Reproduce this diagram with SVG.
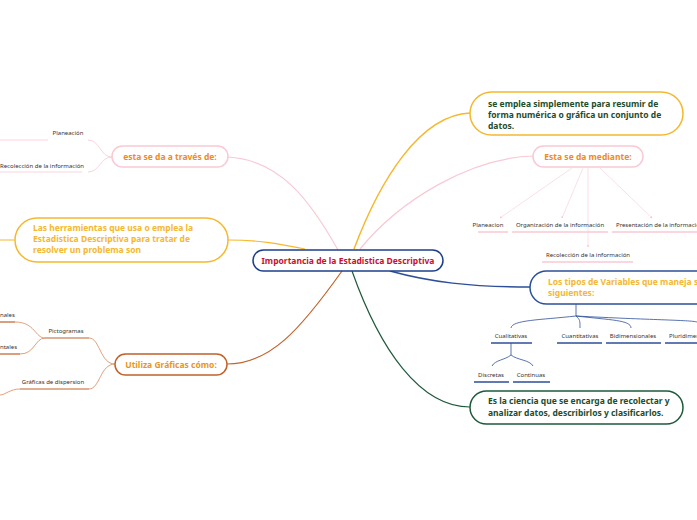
<svg xmlns="http://www.w3.org/2000/svg" width="697" height="520" viewBox="0 0 697 520">
<style>
text{font-family:"Noto Sans","Open Sans",sans-serif}
.n{fill:#fff;stroke-width:1.5}
.b{font-size:8.5px;font-weight:bold}
.s{font-size:6px;fill:#333}
.c{fill:none}
</style>
<defs><marker id="a" markerWidth="4" markerHeight="4" refX="3" refY="2" orient="auto"><path d="M0,0L4,2L0,4z" fill="#f7c5d0"/></marker></defs>
<rect width="697" height="520" fill="#fff"/>
<g id="connectors" class="c">
<path d="M338,250C310,200 280,160 228,157" stroke="#f9c9d4" stroke-width="1.2"/>
<path d="M305,249C280,244 260,240 228,240" stroke="#f5b82e" stroke-width="1.2"/>
<path d="M354,249C380,180 420,115 470,113" stroke="#f5b82e" stroke-width="1.5"/>
<path d="M360,249C400,200 470,158 533,156" stroke="#f9c9d4" stroke-width="1.2"/>
<path d="M390,271C430,282 470,287 530,287" stroke="#2d4f99" stroke-width="1.5"/>
<path d="M352,271C380,350 420,407 470,407" stroke="#1e5a3a" stroke-width="1.2"/>
<path d="M342,271C300,330 270,364 227,364" stroke="#c0622a" stroke-width="1.2"/>
<g stroke="#f9c9d4" stroke-width="0.6">
<path d="M572,168L500,218" marker-end="url(#a)"/>
<path d="M583,168L562,218" marker-end="url(#a)"/>
<path d="M588,168L588,247" marker-end="url(#a)"/>
<path d="M600,168L652,218" marker-end="url(#a)"/>
</g>
<g stroke="#f9c9d4" stroke-width="0.8">
<path d="M112,157C100,157 100,140 88,140"/><path d="M112,157C100,157 100,172 88,172"/>
<path d="M48,140L0,140M82,172L0,172"/>
</g>
<path d="M15,240L0,240" stroke="#f5b82e"/>
<g stroke="#d9875a" stroke-width="0.8">
<path d="M115,364C100,364 100,338 89,338"/><path d="M115,364C100,364 100,389 89,389"/>
<path d="M45,338C35,338 35,322 15,322"/><path d="M45,338C35,338 35,354 20,354"/>
<path d="M20,389C10,389 5,395 0,395"/>
</g>
<g stroke="#2d4f99" stroke-width="0.8">
<path d="M576,304L576,316"/>
<path d="M576,316C540,320 512,320 511,328"/><path d="M576,316C580,320 580,320 580,328"/>
<path d="M576,316C610,320 631,320 631,328"/><path d="M576,316C650,320 690,320 697,322"/>
<path d="M511,343L511,355C505,360 495,360 492,366M511,355C517,360 530,360 533,366"/>
</g>
</g>
<g id="central"><rect class="n" x="253" y="250" width="190" height="21" rx="10.5" stroke="#1c3f8c"/><text x="348" y="263.5" text-anchor="middle" class="b" fill="#c8102e">Importancia de la Estadistica Descriptiva</text></g>
<g id="resume"><rect class="n" x="470" y="92" width="213" height="43" rx="21.5" stroke="#f5b82e"/><text class="b" fill="#1e4d2b"><tspan x="488" y="107">se emplea simplemente para resumir de</tspan><tspan x="488" y="118">forma numérica o gráfica un conjunto de</tspan><tspan x="488" y="129">datos.</tspan></text></g>
<g id="mediante"><rect class="n" x="533" y="146" width="110" height="21" rx="10.5" stroke="#f9c9d4"/><text x="588" y="160" text-anchor="middle" class="b" fill="#f08a24">Esta se da mediante:</text></g>
<g id="m1"><text x="488" y="227" text-anchor="middle" class="s">Planeacion</text><path d="M478,232H508" stroke="#f9c9d4" stroke-width="1.5"/></g>
<g id="m2"><text x="560" y="227" text-anchor="middle" class="s">Organización de la información</text><path d="M512,232H608" stroke="#f9c9d4" stroke-width="1.5"/></g>
<g id="m3"><text x="616" y="227" class="s">Presentación de la información</text><path d="M612,232H697" stroke="#f9c9d4" stroke-width="1.5"/></g>
<g id="m4"><text x="588" y="257" text-anchor="middle" class="s">Recolección de la información</text><path d="M542,262H633" stroke="#f9c9d4" stroke-width="1.5"/></g>
<g id="tipos"><rect class="n" x="530" y="271" width="200" height="33" rx="16.5" stroke="#2d4f99"/><text class="b" fill="#f5b82e"><tspan x="548" y="285">Los tipos de Variables que maneja son los</tspan><tspan x="548" y="296">siguientes:</tspan></text></g>
<g id="t1"><text x="511" y="338" text-anchor="middle" class="s">Cualitativas</text><path d="M491,343H532" stroke="#2d4f99" stroke-width="1.5"/></g>
<g id="t2"><text x="580" y="338" text-anchor="middle" class="s">Cuantitativas</text><path d="M557,343H602" stroke="#2d4f99" stroke-width="1.5"/></g>
<g id="t3"><text x="633" y="338" text-anchor="middle" class="s">Bidimensionales</text><path d="M606,343H661" stroke="#2d4f99" stroke-width="1.5"/></g>
<g id="t4"><text x="669" y="338" class="s">Pluridimensionales</text><path d="M665,343H697" stroke="#2d4f99" stroke-width="1.5"/></g>
<g id="t5"><text x="491" y="377" text-anchor="middle" class="s">Discretas</text><path d="M474,382H509" stroke="#2d4f99" stroke-width="1.5"/></g>
<g id="t6"><text x="531" y="377" text-anchor="middle" class="s">Continuas</text><path d="M513,382H550" stroke="#2d4f99" stroke-width="1.5"/></g>
<g id="ciencia"><rect class="n" x="470" y="391" width="213" height="33" rx="16.5" stroke="#1e5a3a"/><text class="b" fill="#1e4d2b"><tspan x="488" y="404">Es la ciencia que se encarga de recolectar y</tspan><tspan x="488" y="416">analizar datos, describirlos y clasificarlos.</tspan></text></g>
<g id="traves"><rect class="n" x="112" y="146" width="116" height="21" rx="10.5" stroke="#f9c9d4"/><text x="170" y="160" text-anchor="middle" class="b" fill="#f08a24">esta se da a través de:</text></g>
<g id="l1"><text x="68" y="135" text-anchor="middle" class="s">Planeación</text></g>
<g id="l2"><text x="0" y="168" class="s">Recolección de la información</text></g>
<g id="herr"><rect class="n" x="15" y="218" width="213" height="44" rx="22" stroke="#f5b82e"/><text class="b" fill="#f5b82e"><tspan x="33" y="231">Las herramientas que usa o emplea la</tspan><tspan x="33" y="242">Estadistica Descriptiva para tratar de</tspan><tspan x="33" y="253">resolver un problema son</tspan></text></g>
<g id="graf"><rect class="n" x="115" y="354" width="112" height="21" rx="10.5" stroke="#c0622a"/><text x="171" y="368" text-anchor="middle" class="b" fill="#e8961e">Utiliza Gráficas cómo:</text></g>
<g id="g1"><text x="66" y="333" text-anchor="middle" class="s">Pictogramas</text><path d="M45,338H89" stroke="#c0622a" stroke-width="1.2"/></g>
<g id="g2"><text x="0" y="317" class="s">nales</text><path d="M0,322H15" stroke="#c0622a" stroke-width="1.2"/></g>
<g id="g3"><text x="0" y="349" class="s">ntales</text><path d="M0,354H20" stroke="#c0622a" stroke-width="1.2"/></g>
<g id="g4"><text x="53" y="384" text-anchor="middle" class="s">Gráficas de dispersion</text><path d="M20,389H89" stroke="#c0622a" stroke-width="1.2"/></g>
</svg>
